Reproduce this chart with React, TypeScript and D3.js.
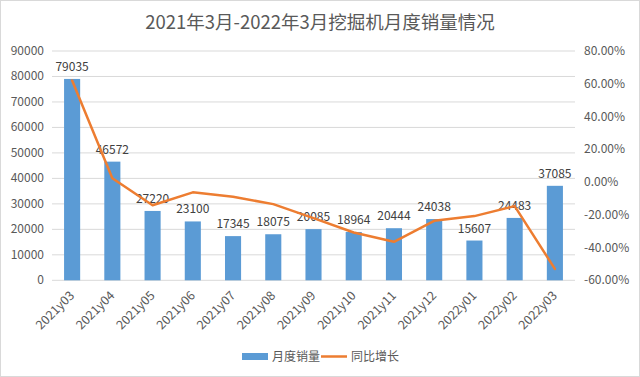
import React from "react";
import * as d3 from "d3";

const categories = ["2021y03","2021y04","2021y05","2021y06","2021y07","2021y08","2021y09","2021y10","2021y11","2021y12","2022y01","2022y02","2022y03"];
const sales = [79035,46572,27220,23100,17345,18075,20085,18964,20444,24038,15607,24483,37085];
const growth = [0.62,0.023,-0.142,-0.063,-0.09,-0.135,-0.22,-0.308,-0.365,-0.237,-0.208,-0.147,-0.53];
const leftTicks = [0,10000,20000,30000,40000,50000,60000,70000,80000,90000];
const rightTicks = [-0.6,-0.4,-0.2,0,0.2,0.4,0.6,0.8];

const W = 640, H = 377;
const M = { left: 52, right: 575, top: 51, bottom: 280.3 };
const FONT = "'Noto Sans CJK SC', 'Noto Sans', sans-serif";

export default function App() {
  const x = d3.scaleBand<string>().domain(categories).range([M.left, M.right]).paddingInner(0.6).paddingOuter(0.3);
  const y = d3.scaleLinear().domain([0, 90000]).range([M.bottom, M.top]);
  const y2 = d3.scaleLinear().domain([-0.6, 0.8]).range([M.bottom, M.top]);
  const cx = (c: string) => (x(c) as number) + x.bandwidth() / 2;
  const line = d3.line<number>().x((_, i) => cx(categories[i])).y((d) => y2(d));
  const pct = (v: number) => (v * 100).toFixed(2) + "%";

  return (
    <svg width={W} height={H} style={{ position: "absolute", left: 0, top: 0 }} fontFamily={FONT}>
      <rect x={0.5} y={0.5} width={W - 1} height={H - 1} fill="#fff" stroke="#d9d9d9" />
      <text x={W / 2} y={29} textAnchor="middle" fontSize={18.5} fill="#595959">2021年3月-2022年3月挖掘机月度销量情况</text>
      {leftTicks.map((t) => (
        <g key={t}>
          <line x1={M.left} x2={M.right} y1={y(t)} y2={y(t)} stroke="#d9d9d9" strokeWidth={1} />
          <text x={44} y={y(t) + 4} textAnchor="end" fontSize={12} fill="#595959">{t}</text>
        </g>
      ))}
      {rightTicks.map((t) => (
        <text key={t} x={584} y={y2(t) + 4} fontSize={12} fill="#595959">{pct(t)}</text>
      ))}
      {categories.map((c, i) => (
        <g key={c}>
          <rect x={x(c)} y={y(sales[i])} width={x.bandwidth()} height={y(0) - y(sales[i])} fill="#5B9BD5" />
          <text x={cx(c)} y={y(sales[i]) - 8} textAnchor="middle" fontSize={12} fill="#404040">{sales[i]}</text>
          <text transform={`translate(${cx(c) + 3},${y(0) + 16}) rotate(-45)`} textAnchor="end" fontSize={12.5} fill="#595959">{c}</text>
        </g>
      ))}
      <path d={line(growth) || ""} fill="none" stroke="#ED7D31" strokeWidth={2.5} strokeLinejoin="round" strokeLinecap="round" />
      <g>
        <rect x={242} y={353} width={26} height={7} fill="#5B9BD5" />
        <text x={272} y={361} fontSize={12} fill="#595959">月度销量</text>
        <line x1={321} x2={347} y1={356.5} y2={356.5} stroke="#ED7D31" strokeWidth={2.5} />
        <text x={351} y={361} fontSize={12} fill="#595959">同比增长</text>
      </g>
    </svg>
  );
}
